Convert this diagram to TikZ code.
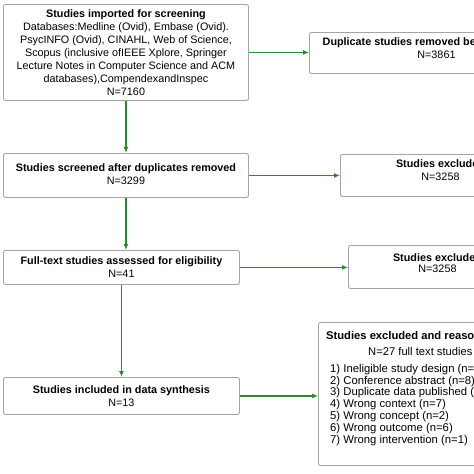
\documentclass[tikz,border=0pt]{standalone}
\usepackage{fontspec}
\setmainfont{Liberation Sans}
\usetikzlibrary{arrows.meta}
\definecolor{arrowgreen}{RGB}{38,140,44}
\definecolor{boxgray}{RGB}{165,165,165}
\tikzset{
  box/.style={draw=boxgray, line width=0.9pt, rounded corners=2pt, fill=white, inner sep=0pt, anchor=north west},
  txt/.style={inner sep=0pt, align=center, font=\fontsize{10.8}{13}\selectfont},
  ltxt/.style={inner sep=0pt, align=left, font=\fontsize{11.3}{11.8}\selectfont, anchor=north west},
  flow/.style={draw=arrowgreen, line width=1.1pt, -{Latex[length=6pt,width=5pt]}}
}
\begin{document}
\begin{tikzpicture}[x=1pt,y=-1pt]
\useasboundingbox (0,0) rectangle (474,474);
\clip (0,0) rectangle (474,474);
% boxes
\node[box, minimum width=245pt, minimum height=96pt] (b1) at (3,4) {};
\node[box, minimum width=254pt, minimum height=41pt] (b2) at (309,32) {};
\node[box, minimum width=245pt, minimum height=44pt] (b3) at (3,153) {};
\node[box, minimum width=200pt, minimum height=42pt] (b4) at (340,154) {};
\node[box, minimum width=236pt, minimum height=34pt] (b5) at (3,250) {};
\node[box, minimum width=178pt, minimum height=43pt] (b6) at (348,245) {};
\node[box, minimum width=236pt, minimum height=37pt] (b7) at (3,377) {};
\node[box, minimum width=256pt, minimum height=143pt] (b8) at (318,322) {};
% texts
\node[txt] (t1) at (b1.center) {\textbf{Studies imported for screening}\\
Databases:Medline (Ovid), Embase (Ovid).\\
PsycINFO (Ovid), CINAHL, Web of Science,\\
Scopus (inclusive ofIEEE Xplore, Springer\\
Lecture Notes in Computer Science and ACM\\
databases),CompendexandInspec\\
N=7160};
\node[txt, anchor=north] (t2) at ([yshift=-5pt]b2.north) {\textbf{Duplicate studies removed before screening}\\N=3861};
\node[txt] (t3) at ([yshift=1pt]b3.center) {\textbf{Studies screened after duplicates removed}\\N=3299};
\node[txt, anchor=north] (t4) at ([yshift=-5pt]b4.north) {\textbf{Studies excluded}\\N=3258};
\node[txt, anchor=north, font=\fontsize{10.8}{11}\selectfont] (t6) at ([yshift=-8pt]b6.north) {\textbf{Studies excluded}\\N=3258};
\node[txt] (t5) at (b5.center) {\textbf{Full-text studies assessed for eligibility}\\N=41};
\node[txt] (t7) at (b7.center) {\textbf{Studies included in data synthesis}\\N=13};
\node[txt, anchor=north west, align=left, font=\fontsize{11.2}{16}\selectfont] (t8) at (326,331) {\textbf{Studies excluded and reasons for exclusion}\\\hspace*{42pt}N=27 full text studies excluded};
\node[ltxt] (t9) at (330,364) {1) Ineligible study design (n=2)\\
2) Conference abstract (n=8)\\
3) Duplicate data published (n=1)\\
4) Wrong context (n=7)\\
5) Wrong concept (n=2)\\
6) Wrong outcome (n=6)\\
7) Wrong intervention (n=1)};
% connectors
\draw[flow] (b1.east) -- (b2.west |- b1.east);
\draw[flow] (b1.south -| b3.north) -- (b3.north);
\draw[flow] (b3.east) -- (b4.west |- b3.east);
\draw[flow] (b3.south) -- (b3.south |- b5.north);
\draw[flow] (b5.east) -- (b6.west |- b5.east);
\draw[flow] (b5.south) -- (b7.north);
\draw[flow] (b7.east) -- (b8.west |- b7.east);
\end{tikzpicture}
\end{document}
